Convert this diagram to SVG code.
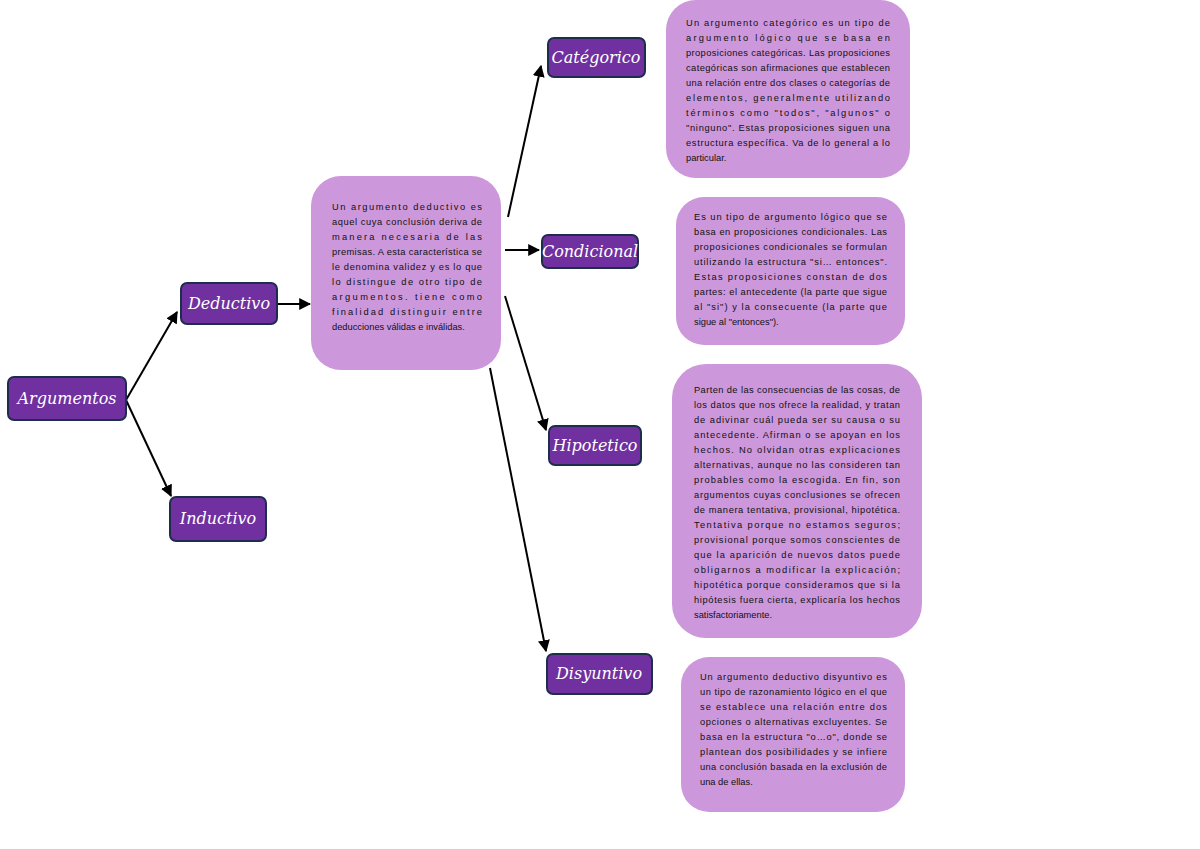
<svg xmlns="http://www.w3.org/2000/svg" width="1200" height="849" viewBox="0 0 1200 849">
<defs>
<marker id="ah" viewBox="0 0 10 10" refX="9" refY="5" markerWidth="6" markerHeight="6" orient="auto"><path d="M0,0L10,5L0,10z" fill="#000"/></marker>
<style>
.box{fill:#cd97db}
.lbl{fill:#7030a0;stroke:#1f2d4d;stroke-width:2}
.lt{fill:#fff;font-family:"DejaVu Serif",serif;font-style:italic;font-size:16px;text-anchor:middle}
.t{font-family:"Liberation Sans",sans-serif;font-size:9.3px;fill:#111}
.c{stroke:#000;stroke-width:2;fill:none;marker-end:url(#ah)}
</style>
</defs>
<rect width="1200" height="849" fill="#fff"/>
<g id="connectors">
<line class="c" x1="126" y1="400" x2="177" y2="312"/>
<line class="c" x1="126" y1="400" x2="171" y2="496"/>
<line class="c" x1="277" y1="304" x2="310" y2="304"/>
<line class="c" x1="508" y1="217" x2="541" y2="66"/>
<line class="c" x1="505" y1="250" x2="539" y2="250"/>
<line class="c" x1="505" y1="296" x2="546" y2="430"/>
<line class="c" x1="490" y1="368" x2="546" y2="651"/>
</g>
<g id="argumentos"><rect class="lbl" x="8" y="377" width="118" height="43" rx="6"/><text class="lt" x="67" y="404">Argumentos</text></g>
<g id="deductivo"><rect class="lbl" x="181" y="283" width="96" height="41" rx="6"/><text class="lt" x="229" y="309">Deductivo</text></g>
<g id="inductivo"><rect class="lbl" x="170" y="497" width="96" height="44" rx="6"/><text class="lt" x="218" y="524">Inductivo</text></g>
<g id="categorico"><rect class="lbl" x="548" y="38" width="97" height="39" rx="6"/><text class="lt" x="596" y="63">Catégorico</text></g>
<g id="condicional"><rect class="lbl" x="542" y="235" width="96" height="33" rx="6"/><text class="lt" x="590" y="257" font-size="14">Condicional</text></g>
<g id="hipotetico"><rect class="lbl" x="549" y="426" width="92" height="39" rx="6"/><text class="lt" x="595" y="451">Hipotetico</text></g>
<g id="disyuntivo"><rect class="lbl" x="547" y="654" width="105" height="40" rx="6"/><text class="lt" x="599" y="679">Disyuntivo</text></g>

<g id="deductivo-def"><rect class="box" x="311" y="176" width="190" height="194" rx="30"/>
<text class="t" lengthAdjust="spacing">
<tspan x="332" y="210" textLength="150">Un argumento deductivo es</tspan>
<tspan x="332" y="225" textLength="150">aquel cuya conclusión deriva de</tspan>
<tspan x="332" y="240" textLength="150">manera necesaria de las</tspan>
<tspan x="332" y="255" textLength="150">premisas. A esta característica se</tspan>
<tspan x="332" y="270" textLength="150">le denomina validez y es lo que</tspan>
<tspan x="332" y="285" textLength="150">lo distingue de otro tipo de</tspan>
<tspan x="332" y="300" textLength="150">argumentos. tiene como</tspan>
<tspan x="332" y="315" textLength="150">finalidad distinguir entre</tspan>
<tspan x="332" y="330">deducciones válidas e inválidas.</tspan>
</text></g>

<g id="categorico-def"><rect class="box" x="666" y="0" width="244" height="178" rx="30"/>
<text class="t">
<tspan x="686" y="26" textLength="204">Un argumento categórico es un tipo de</tspan>
<tspan x="686" y="41" textLength="204">argumento lógico que se basa en</tspan>
<tspan x="686" y="56" textLength="204">proposiciones categóricas. Las proposiciones</tspan>
<tspan x="686" y="71" textLength="204">categóricas son afirmaciones que establecen</tspan>
<tspan x="686" y="86" textLength="204">una relación entre dos clases o categorías de</tspan>
<tspan x="686" y="101" textLength="204">elementos, generalmente utilizando</tspan>
<tspan x="686" y="116" textLength="204">términos como "todos", "algunos" o</tspan>
<tspan x="686" y="131" textLength="204">"ninguno". Estas proposiciones siguen una</tspan>
<tspan x="686" y="146" textLength="204">estructura específica. Va de lo general a lo</tspan>
<tspan x="686" y="161">particular.</tspan>
</text></g>

<g id="condicional-def"><rect class="box" x="676" y="197" width="229" height="148" rx="28"/>
<text class="t">
<tspan x="694" y="220" textLength="193">Es un tipo de argumento lógico que se</tspan>
<tspan x="694" y="235" textLength="193">basa en proposiciones condicionales. Las</tspan>
<tspan x="694" y="250" textLength="193">proposiciones condicionales se formulan</tspan>
<tspan x="694" y="265" textLength="193">utilizando la estructura "si… entonces".</tspan>
<tspan x="694" y="280" textLength="193">Estas proposiciones constan de dos</tspan>
<tspan x="694" y="295" textLength="193">partes: el antecedente (la parte que sigue</tspan>
<tspan x="694" y="310" textLength="193">al "si") y la consecuente (la parte que</tspan>
<tspan x="694" y="325">sigue al "entonces").</tspan>
</text></g>

<g id="hipotetico-def"><rect class="box" x="672" y="364" width="250" height="274" rx="34"/>
<text class="t">
<tspan x="694" y="393" textLength="206">Parten de las consecuencias de las cosas, de</tspan>
<tspan x="694" y="408" textLength="206">los datos que nos ofrece la realidad, y tratan</tspan>
<tspan x="694" y="423" textLength="206">de adivinar cuál pueda ser su causa o su</tspan>
<tspan x="694" y="438" textLength="206">antecedente. Afirman o se apoyan en los</tspan>
<tspan x="694" y="453" textLength="206">hechos. No olvidan otras explicaciones</tspan>
<tspan x="694" y="468" textLength="206">alternativas, aunque no las consideren tan</tspan>
<tspan x="694" y="483" textLength="206">probables como la escogida. En fin, son</tspan>
<tspan x="694" y="498" textLength="206">argumentos cuyas conclusiones se ofrecen</tspan>
<tspan x="694" y="513" textLength="206">de manera tentativa, provisional, hipotética.</tspan>
<tspan x="694" y="528" textLength="206">Tentativa porque no estamos seguros;</tspan>
<tspan x="694" y="543" textLength="206">provisional porque somos conscientes de</tspan>
<tspan x="694" y="558" textLength="206">que la aparición de nuevos datos puede</tspan>
<tspan x="694" y="573" textLength="206">obligarnos a modificar la explicación;</tspan>
<tspan x="694" y="588" textLength="206">hipotética porque consideramos que si la</tspan>
<tspan x="694" y="603" textLength="206">hipótesis fuera cierta, explicaría los hechos</tspan>
<tspan x="694" y="618">satisfactoriamente.</tspan>
</text></g>

<g id="disyuntivo-def"><rect class="box" x="681" y="657" width="224" height="155" rx="28"/>
<text class="t">
<tspan x="700" y="680" textLength="187">Un argumento deductivo disyuntivo es</tspan>
<tspan x="700" y="695" textLength="187">un tipo de razonamiento lógico en el que</tspan>
<tspan x="700" y="710" textLength="187">se establece una relación entre dos</tspan>
<tspan x="700" y="725" textLength="187">opciones o alternativas excluyentes. Se</tspan>
<tspan x="700" y="740" textLength="187">basa en la estructura "o…o", donde se</tspan>
<tspan x="700" y="755" textLength="187">plantean dos posibilidades y se infiere</tspan>
<tspan x="700" y="770" textLength="187">una conclusión basada en la exclusión de</tspan>
<tspan x="700" y="785">una de ellas.</tspan>
</text></g>
</svg>
